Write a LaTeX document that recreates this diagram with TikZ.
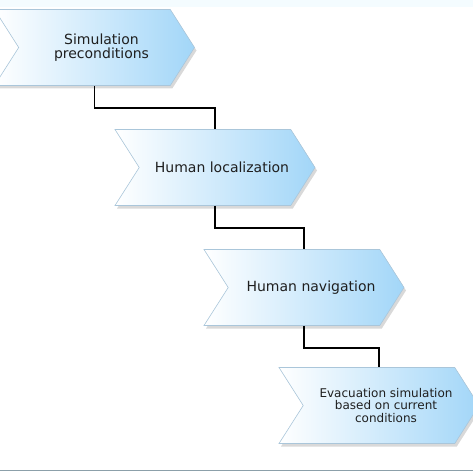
\documentclass[tikz,border=0pt]{standalone}
\usepackage{fontspec}
\setmainfont{DejaVu Sans}
\usetikzlibrary{shapes.symbols, shadows, positioning}

\definecolor{chevblue}{RGB}{162,214,248}
\definecolor{chevedge}{RGB}{170,198,218}
\definecolor{rulegray}{RGB}{140,160,170}
\definecolor{topband}{RGB}{244,252,255}

\begin{document}
\begin{tikzpicture}[x=1pt, y=1pt, node distance=120pt]
        \tikzstyle{chevron} = [signal, signal from=west, signal to=east, signal pointer angle=115, minimum width=200pt, minimum height=76pt, draw=chevedge, line width=0.6pt, left color=white, right color=chevblue, drop shadow={shadow xshift=2pt, shadow yshift=-3pt, opacity=0.3}]
        \tikzstyle{caption} = [align=center, text=black!88, xshift=7pt, font=\fontsize{14}{14.5}\selectfont]
        \tikzstyle{smallcaption} = [caption, font=\fontsize{12}{12.4}\selectfont]
        \tikzstyle{link} = [line width=1.6pt, black]

        \useasboundingbox (0,0) rectangle (473,-473);
        \fill [topband] (0,0) rectangle (473,-7);

        \node (pre) [chevron, label={[caption, name=pretext]center:{Simulation\\preconditions}}] at (94.5,-47.5) {};
        \node (loc) [chevron, below of=pre, xshift=120.5pt, label={[caption, name=loctext]center:Human localization}] {};
        \node (nav) [chevron, below of=loc, xshift=89pt, label={[caption, name=navtext]center:Human navigation}] {};
        \node (evac) [chevron, below of=nav, xshift=75pt, yshift=2pt, label={[smallcaption, name=evactext]center:{Evacuation simulation\\based on current\\conditions}}] {};

        \draw [link] (pre.south) -- ++(0,-22) -| (loc.north);
        \draw [link] (loc.south) -- ++(0,-22) -| (nav.north);
        \draw [link] (nav.south) -- ++(0,-22) -| (evac.north);

        \draw [rulegray, line width=1pt] (0,-470) -- (473,-470);
    \end{tikzpicture}
\end{document}
